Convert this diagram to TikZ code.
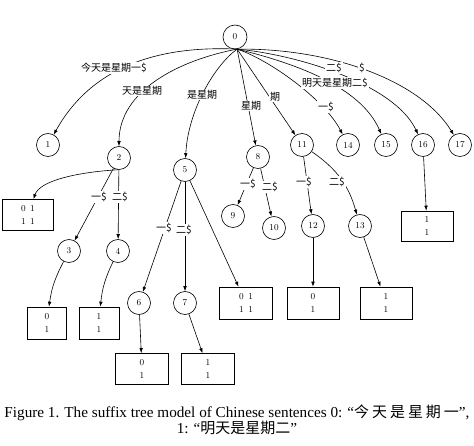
\documentclass[tikz,border=0pt]{standalone}
\usepackage{fontspec}
\newfontfamily\cjk{Noto Sans CJK SC}
\newfontfamily\capfont{Liberation Serif}
\usetikzlibrary{arrows.meta}
\begin{document}
\begin{tikzpicture}[x=1pt,y=1pt,
  st/.style={circle,draw,line width=0.6pt,minimum size=23pt,inner sep=0pt,font=\fontsize{9}{9}\selectfont},
  leaf/.style={draw,line width=0.6pt,minimum width=#1,minimum height=31pt,inner sep=0pt,align=center,font=\fontsize{9}{13}\selectfont},
  leaf/.default=52pt,
  lab/.style={fill=white,inner sep=0.8pt,font=\cjk\fontsize{10}{10}\selectfont},
  arr/.style={line width=0.6pt,-{Latex[length=5pt,width=3.6pt]}}]
\useasboundingbox (0,0) rectangle (474,-446);
% states
\node[st,minimum size=24pt] (n0) at (235,-37) {0};
\node[st] (n1) at (48,-145) {1};
\node[st] (n2) at (119,-158) {2};
\node[st] (n5) at (185,-170) {5};
\node[st] (n8) at (258,-157) {8};
\node[st] (n11) at (302,-145) {11};
\node[st] (n14) at (348,-145) {14};
\node[st] (n15) at (386,-145) {15};
\node[st] (n16) at (423,-145) {16};
\node[st] (n17) at (460,-145) {17};
\node[st] (n3) at (69,-251) {3};
\node[st] (n4) at (118,-251) {4};
\node[st] (n6) at (139,-303) {6};
\node[st] (n7) at (185,-303) {7};
\node[st] (n9) at (233,-216) {9};
\node[st] (n10) at (274,-228) {10};
\node[st] (n12) at (313,-226) {12};
\node[st] (n13) at (360,-226) {13};
% leaf boxes
\node[leaf=51pt] (bA) at (28,-215) {0\enspace 1\\1\enspace 1};
\node[leaf=39pt,minimum height=32pt] (b3) at (47,-323) {0\\1};
\node[leaf=40pt,minimum height=32pt] (b4) at (99,-323) {1\\1};
\node[leaf=53pt] (b6) at (142,-369) {0\\1};
\node[leaf=53pt] (b7) at (208,-369) {1\\1};
\node[leaf=53pt,minimum height=32pt] (b5) at (246,-303) {0\enspace 1\\1\enspace 1};
\node[leaf=52pt,minimum height=32pt] (b12) at (313,-303) {0\\1};
\node[leaf=52pt,minimum height=32pt] (b13) at (386,-303) {1\\1};
\node[leaf=52pt,minimum height=30pt] (b16) at (427,-226) {1\\1};
% root edges
\draw[arr] (n0.-80) .. controls (170,-46) and (95,-60) .. (n1);
\draw[arr] (n0.-80) .. controls (180,-60) and (119,-90) .. (n2);
\draw[arr] (n0.-80) .. controls (215,-65) and (188,-110) .. (n5);
\draw[arr] (n0.-80) -- (n8);
\draw[arr] (n0.-80) -- (n11);
\draw[arr] (n0.-80) .. controls (270,-60) and (325,-100) .. (n14);
\draw[arr] (n0.-80) .. controls (290,-62) and (360,-85) .. (n15);
\draw[arr] (n0.-80) .. controls (300,-55) and (395,-85) .. (n16);
\draw[arr] (n0.-80) .. controls (330,-48) and (420,-80) .. (n17);
% inner edges
\draw[arr] (n2.-95) .. controls (80,-172) and (40,-180) .. (bA);
\draw[arr] (n2) -- (n3);
\draw[arr] (n2) -- (n4);
\draw[arr] (n3) to[bend right=10] (b3);
\draw[arr] (n4) to[bend right=10] (b4);
\draw[arr] (n5) -- (n6);
\draw[arr] (n5) -- (n7);
\draw[arr] (n5) -- (b5);
\draw[arr] (n6) -- (b6);
\draw[arr] (n7) -- (b7);
\draw[arr] (n8) -- (n9);
\draw[arr] (n8) -- (n10);
\draw[arr] (n11) -- (n12);
\draw[arr] (n11) to[bend left=20] (n13);
\draw[arr] (n12) -- (b12);
\draw[arr] (n13) -- (b13);
\draw[arr] (n16) -- (b16);
% edge labels
\node[lab] (l1) at (114,-68) {今天是星期一\$};
\node[lab] (l2) at (142,-91) {天是星期};
\node[lab] (l3) at (202,-95) {是星期};
\node[lab] (l4) at (251,-106) {星期};
\node[lab] (l5) at (275,-97) {期};
\node[lab] (l6) at (326,-107) {一\$};
\node[lab] (l7) at (335,-83) {明天是星期二\$};
\node[lab] (l8) at (334,-68) {二\$};
\node[lab] (l9) at (362,-68) {\$};
\node[lab] (l10) at (99,-197) {一\$};
\node[lab] (l11) at (120,-197) {二\$};
\node[lab] (l12) at (164,-228) {一\$};
\node[lab] (l13) at (184,-230) {二\$};
\node[lab] (l14) at (248,-184) {一\$};
\node[lab] (l15) at (270,-187) {二\$};
\node[lab] (l16) at (304,-182) {一\$};
\node[lab] (l17) at (337,-182) {二\$};
% caption
\node[font=\capfont\fontsize{15.2}{16}\selectfont,align=center,inner sep=0pt] (cap) at (237,-420)
  {\makebox[465pt][s]{Figure 1. The suffix tree model of Chinese sentences 0: “{\cjk\fontsize{15}{16}\selectfont 今\hfill 天\hfill 是\hfill 星\hfill 期\hfill 一}”,}\\1: “{\cjk\fontsize{15}{16}\selectfont 明天是星期二}”};
\end{tikzpicture}
\end{document}
